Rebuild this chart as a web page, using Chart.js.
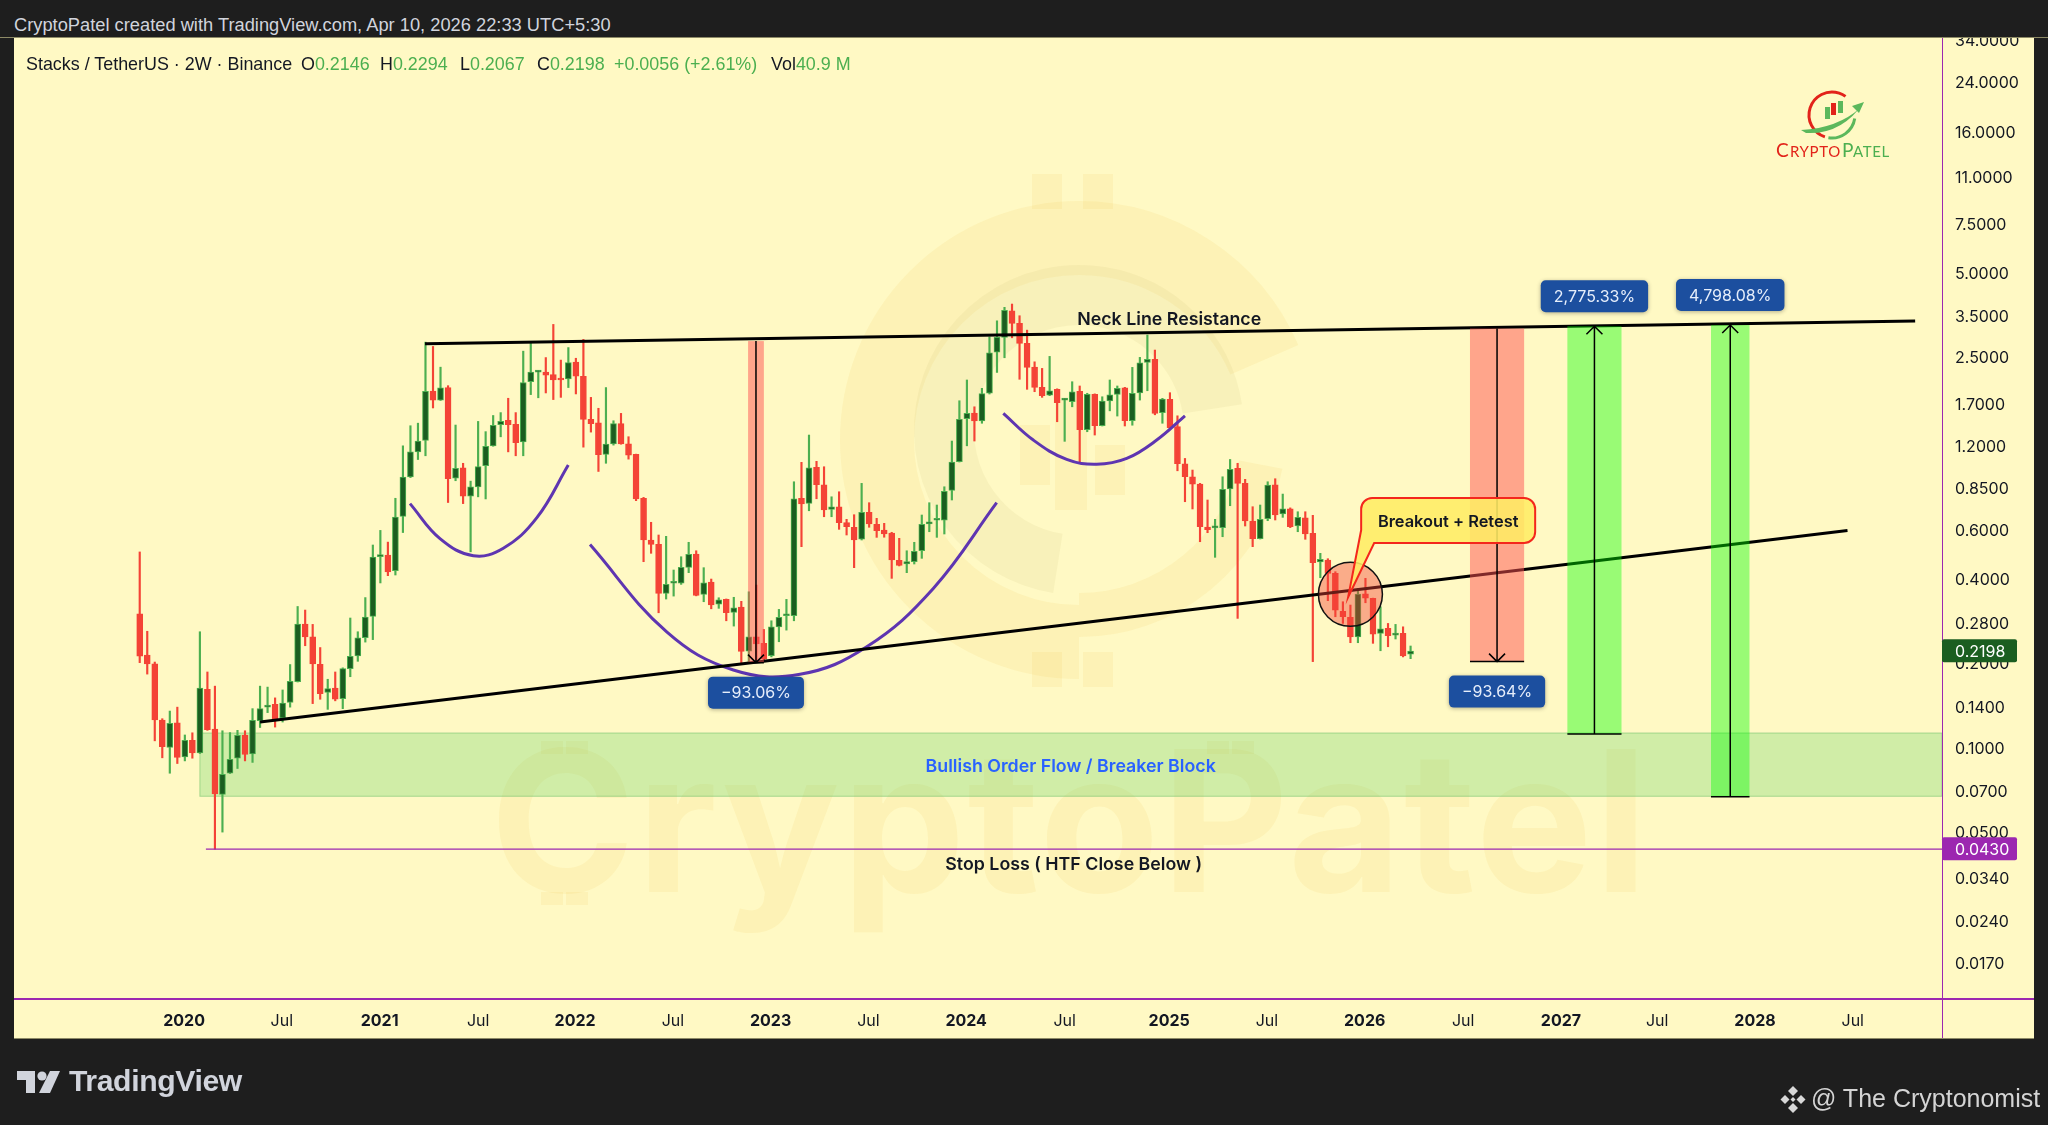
<!DOCTYPE html>
<html>
<head>
<meta charset="utf-8">
<title>STX/USDT 2W</title>
<script src="https://cdn.jsdelivr.net/npm/chart.js@4"></script>
<style>
  html, body { margin: 0; padding: 0; background: #1e1e1e; width: 2048px; height: 1125px; overflow: hidden; }
  canvas { position: absolute; left: 0; top: 0; }
  .top { position: absolute; left: 0; top: 0; width: 2048px; height: 38px; background: #1e1e1e; border-bottom: 1px solid #8d8a66; box-sizing: border-box; }
  .t { position: absolute; white-space: nowrap; font-family: "Liberation Sans", sans-serif; }
  .lg { top: 54px; font-size: 17.9px; color: #131722; }
  .gr { color: #4caf50; }
</style>
</head>
<body>
<canvas id="grafiek" width="2048" height="1125"></canvas>
<div class="top"></div>
<div class="t" style="left:14px;top:14px;font-size:18.3px;color:#d1d4dc">CryptoPatel created with TradingView.com, Apr 10, 2026 22:33 UTC+5:30</div>
<div class="t lg" style="left:26px">Stacks / TetherUS · 2W · Binance</div>
<div class="t lg" style="left:301px">O<span class="gr">0.2146</span></div>
<div class="t lg" style="left:380px">H<span class="gr">0.2294</span></div>
<div class="t lg" style="left:460px">L<span class="gr">0.2067</span></div>
<div class="t lg" style="left:537px">C<span class="gr">0.2198</span></div>
<div class="t lg gr" style="left:614px">+0.0056 (+2.61%)</div>
<div class="t lg" style="left:771px">Vol<span class="gr">40.9 M</span></div>
<svg class="t" style="left:17px;top:1071px" width="44" height="22" viewBox="0 0 44 22">
  <path fill="#d1d4dc" d="M0 0h18v22H9V9H0z"/><circle fill="#d1d4dc" cx="25" cy="5" r="4.6"/><path fill="#d1d4dc" d="M33 0h10L33 22H22z"/>
</svg>
<div class="t" style="left:69px;top:1064px;font-size:30.2px;font-weight:700;color:#d1d4dc;letter-spacing:-.4px">TradingView</div>
<svg class="t" style="left:1780px;top:1085px" width="26" height="29" viewBox="0 0 26 29">
  <g fill="#d8d8d8"><path d="M13 1l5 5-5 5-5-5z"/><path d="M13 18l5 5-5 5-5-5z"/><path d="M5 10l4.500 4.500-4.500 4.500-4.500-4.500z"/><path d="M21 10l4.500 4.500-4.500 4.500-4.500-4.500z"/><path d="M13 12l2.500 2.500-2.500 2.500-2.500-2.500z"/></g>
</svg>
<div class="t" style="left:1811px;top:1084px;font-size:25px;color:#d4d4d4">@ The Cryptonomist</div>
<script>
const opens = [.299,.213,.198,.1247,.0994,.1217,.0919,.1055,.0951,.1606,
  .1157,.0675,.0804,.0911,.1102,.0943,.124,.1386,.1419,.1268,
  .144,.1709,.275,.2472,.1973,.1564,.1622,.1487,.1905,.2115,
  .2456,.2927,.4794,.4855,.4266,.6676,.925,1.136,1.248,1.876,
  1.741,1.93,.9139,.9951,.7885,.8515,1.013,1.194,1.422,1.472,
  1.426,1.234,2.024,2.191,2.191,2.146,2.07,2.071,2.379,2.119,
  1.485,1.442,1.113,1.214,1.433,1.214,1.113,.7742,.5495,.5303,
  .354,.3847,.3847,.4388,.4895,.3512,.3886,.3241,.3369,.3027,
  .3163,.22,.2474,.2345,.2118,.2687,.2944,.2944,.7742,.7434,
  1.0,.8663,.7074,.7229,.6337,.6102,.5527,.6904,.6248,.5967,
  .5812,.4645,.4509,.4595,.5029,.6269,.6464,.6464,.8266,1.047,
  1.493,1.564,1.465,1.841,2.581,2.917,3.633,3.274,2.778,2.284,
  1.934,1.812,1.902,1.741,1.717,1.871,1.363,1.824,1.409,1.727,
  1.824,1.926,1.468,1.847,2.375,2.434,1.568,1.751,1.398,1.03,
  .9252,.8713,.6117,.607,.6085,.8364,.992,.8763,.6427,.5553,
  .6549,.8663,.6806,.7109,.6167,.6597,.5807,.4584,.466,.4176,
  .3051,.2904,.2474,.3527,.3399,.2545,.2652,.2508,.2545,.2146];
const closes = [.211,.198,.1247,.1,.1214,.0916,.1055,.0951,.1622,.1152,
  .0678,.0797,.0902,.1098,.0938,.1243,.1369,.1411,.125,.1432,
  .1714,.275,.2472,.198,.1548,.1615,.1479,.1905,.2105,.2456,
  .291,.4773,.4855,.422,.6636,.9225,1.136,1.241,1.87,1.741,
  1.924,.9108,.9926,.7885,.8515,1.007,1.19,1.413,1.46,1.422,
  1.226,2.012,2.191,2.209,2.138,2.054,2.054,2.371,2.119,1.485,
  1.434,1.11,1.212,1.433,1.214,1.106,.7705,.5495,.5303,.354,
  .3812,.3863,.4388,.4883,.3482,.3863,.3215,.3358,.3017,.3144,
  .2195,.2474,.2332,.2062,.2687,.2904,.296,.7718,.7392,.9968,
  .8663,.7035,.7229,.6337,.6131,.5495,.6904,.6269,.593,.5773,
  .466,.446,.4595,.5004,.6248,.6389,.6496,.8202,1.045,1.485,
  1.56,1.465,1.835,2.571,2.917,3.646,3.274,2.778,2.279,1.934,
  1.805,1.88,1.703,1.751,1.865,1.363,1.824,1.409,1.727,1.819,
  1.918,1.468,1.841,2.367,2.434,1.56,1.755,1.386,1.03,.9252,
  .8713,.6131,.5982,.6102,.8339,.9834,.8763,.6427,.5553,.6517,
  .8642,.6751,.7109,.6131,.6623,.5773,.4557,.4687,.4176,.3085,
  .2919,.2474,.3519,.3399,.253,.2643,.2496,.2545,.2112,.2198];
const highs = [.498,.259,.201,.126,.1342,.1386,.1102,.1122,.258,.1852,
  .1648,.1141,.1124,.1145,.1141,.1369,.1648,.1635,.1496,.1597,
  .1969,.3177,.3085,.2741,.2265,.1744,.1852,.1916,.2889,.258,
  .3419,.5273,.5947,.54,.775,1.194,1.409,1.439,2.806,2.708,
  2.283,1.96,1.417,1.034,.8925,1.46,1.342,1.533,1.57,1.767,
  1.57,2.605,2.806,2.22,2.471,3.247,2.42,2.683,2.457,2.87,
  1.78,1.627,1.93,1.468,1.56,1.287,1.115,.7807,.6358,.5726,
  .5664,.4291,.4787,.5392,.5029,.4374,.3983,.3414,.338,.3427,
  .3315,.3586,.379,.263,.2824,.3102,.3369,.888,1.042,1.305,
  1.051,1.005,.7846,.8177,.6517,.6768,.8763,.7472,.6568,.6305,
  .5855,.5571,.5029,.5392,.6751,.7472,.7331,.8521,1.242,1.731,
  2.054,1.647,1.918,2.932,3.345,3.738,3.841,3.488,3.098,2.386,
  2.26,2.495,1.91,1.766,2.025,1.955,1.841,1.832,1.789,2.054,
  1.955,1.934,2.279,2.475,2.975,2.629,1.766,1.85,1.529,1.076,
  .978,.8763,.764,.6517,.9252,1.067,1.034,.906,.7229,.7331,
  .888,.9104,.8023,.716,.6936,.6936,.6735,.4924,.471,.4231,
  .3304,.3215,.3688,.4006,.3403,.317,.2763,.2741,.2687,.2294];
const lows = [.2,.182,.105,.0913,.0804,.0871,.089,.091,.0946,.1145,
  .043,.0495,.0802,.0836,.089,.0879,.1172,.1325,.1176,.1226,
  .1386,.1705,.2299,.1427,.1479,.1361,.146,.1369,.1781,.2022,
  .2369,.2418,.3857,.4095,.4118,.5843,.919,1.0665,1.1,1.631,
  1.735,.7484,.8955,.7416,.4985,.7842,.7707,1.19,1.286,1.136,
  1.1,1.1,1.821,1.774,1.846,1.748,1.78,1.93,1.831,1.181,
  1.337,.9666,1.034,1.201,1.21,1.07,.76,.4595,.4924,.3017,
  .3378,.3461,.3812,.4197,.3468,.3304,.3117,.3129,.2824,.2703,
  .1979,.2017,.2045,.2017,.2097,.2376,.2615,.2824,.52,.6992,
  .7718,.6656,.6656,.6,.5726,.4374,.5495,.6102,.5616,.5622,
  .4006,.4437,.4197,.4509,.4724,.5883,.5616,.5773,.764,1.045,
  1.194,1.242,1.438,1.83,2.186,2.467,2.908,2.066,1.902,1.865,
  1.78,1.805,1.456,1.239,1.647,1.047,1.341,1.305,1.406,1.593,
  1.526,1.406,1.415,1.741,1.88,1.542,1.438,1.379,.972,.7533,
  .7095,.5418,.5835,.4764,.5645,.7289,.288,.6167,.52,.554,
  .6442,.648,.6623,.6085,.5883,.5527,.2017,.4027,.3333,.2919,
  .2763,.2357,.2357,.3276,.2345,.2206,.228,.243,.2097,.2067];

const yTicks = [34,24,16,11,7.5,5,3.5,2.5,1.7,1.2,.85,.6,.4,.28,.2,.14,.1,.07,.05,.034,.024,.017];
const xTickPos = [5.9,18.9,31.9,45,57.9,70.9,83.9,96.9,109.9,123,136.9,149.9,162.9,176,189,201.8,214.8,227.8];
const xTickLabels = ["2020","Jul","2021","Jul","2022","Jul","2023","Jul","2024","Jul","2025","Jul","2026","Jul","2027","Jul","2028","Jul"];

// trend lijnen [bar, prijs]
const neckLine = [[37.94,2.77],[236.1,3.337]];
const supportLine = [[16,.1227],[227.1,.5941]];
const stopLine = [[8.8,.043],[239.67,.043]];
const arcLeft = [[35.94,.7416],[39.93,.5557],[44.36,.4828],[48.35,.5136],[52.79,.659],[56.99,1.019]];
const arcMid = [[59.88,.529],[70.08,.2578],[78.94,.1883],[87.8,.1817],[96.68,.228],[105.53,.3688],[113.96,.7472]];
const arcRight = [[114.84,1.56],[118.83,1.252],[123.27,1.067],[127.26,1.025],[131.25,1.076],[135.24,1.252],[139,1.529]];

// meet blokken
const blockFrom = [80.9,176.9,189.85,208.95];
const blockTo = [83,184.1,197.05,214.07];
const blockTop = [2.83,3.14,3.2,3.23];
const blockBottom = [.2,.2017,.1111,.0662];
const blockText = ["\u221293.06%","\u221293.64%","2,775.33%","4,798.08%"];
const blockUp = [false,false,true,true];

const zoneFrom = 8, zoneTop = .112, zoneBottom = .0665;
const lastPrice = .2198, stopPrice = .043;

const noteText = ["Neck Line Resistance","Bullish Order Flow / Breaker Block","Stop Loss ( HTF Close Below )"];
const noteBar = [136.9,123.8,124.2];
const notePrice = [3.42,.0861,.0384];

const calloutBar = 160.7, calloutPrice = .3434, circleBar = 161, circlePrice = .3512;

const barIdx = opens.map((o, i) => i);
const up = i => closes[i] >= opens[i];

function toPts(list) {
  return list.map(p => ({ x: p[0], y: p[1] }));
}
function lijn(list, color, width, tension) {
  return { type: "line", data: toPts(list), borderColor: color, borderWidth: width, pointRadius: 0, tension: tension || 0, order: 0 };
}
function roundBox(ctx, x, y, w, h, r) {
  ctx.beginPath();
  ctx.roundRect(x, y, w, h, r);
}

const achtergrond = {
  id: "achtergrond",
  beforeDraw(chart) {
    const ctx = chart.ctx;
    ctx.save();
    ctx.fillStyle = "#fff9c4";
    ctx.fillRect(14, 38, 2020, 1000);
    ctx.fillStyle = "#8d8a66";
    ctx.fillRect(14, 1038, 2020, 1);
    ctx.restore();
  },
  beforeDatasetsDraw(chart) {
    const ctx = chart.ctx, x = chart.scales.x, y = chart.scales.y;
    ctx.save();
    // watermerk
    const wm = "rgba(236,190,60,0.10)";
    ctx.strokeStyle = wm;
    ctx.fillStyle = wm;
    ctx.lineWidth = 74;
    ctx.beginPath();
    ctx.arc(1079, 440, 202, Math.PI * 0.5, Math.PI * 1.87);
    ctx.stroke();
    ctx.lineWidth = 44;
    ctx.beginPath();
    ctx.arc(1079, 430, 185, Math.PI * 0.06, Math.PI * 0.5);
    ctx.stroke();
    ctx.strokeStyle = "rgba(180,170,90,0.09)";
    ctx.lineWidth = 60;
    ctx.beginPath();
    ctx.arc(1079, 430, 135, Math.PI * 0.55, Math.PI * 1.95);
    ctx.stroke();
    [[1032,174],[1083,174],[1032,652],[1083,652],[541,741],[566,741],[541,892],[566,892],[1207,741],[1232,741]].forEach(p => ctx.fillRect(p[0], p[1], p[1] > 700 ? 22 : 30, p[1] > 700 ? 13 : 35));
    [[1020,425,30,60],[1055,400,32,110],[1095,445,30,50]].forEach(p => ctx.fillRect(p[0], p[1], p[2], p[3]));
    ctx.font = "700 196px Inter";
    ctx.textAlign = "left";
    ctx.textBaseline = "alphabetic";
    ctx.letterSpacing = "2px";
    ctx.fillText("CryptoPatel", 490, 892);
    ctx.letterSpacing = "0px";
    // zone
    const zx = x.getPixelForValue(zoneFrom), zt = y.getPixelForValue(zoneTop), zb = y.getPixelForValue(zoneBottom);
    ctx.fillStyle = "rgba(100,210,100,0.3)";
    ctx.fillRect(zx, zt, x.right - zx, zb - zt);
    ctx.strokeStyle = "rgba(100,190,100,0.5)";
    ctx.lineWidth = 1;
    ctx.strokeRect(zx, zt, x.right - zx, zb - zt);
    ctx.restore();
  },
  afterDatasetsDraw(chart) {
    const ctx = chart.ctx, x = chart.scales.x, y = chart.scales.y;
    ctx.save();
    // blokken met pijl
    blockFrom.forEach((f, i) => {
      const x0 = x.getPixelForValue(f), x1 = x.getPixelForValue(blockTo[i]);
      const t = y.getPixelForValue(blockTop[i]), b = y.getPixelForValue(blockBottom[i]);
      const m = (x0 + x1) / 2;
      ctx.fillStyle = blockUp[i] ? "rgba(0,255,0,0.4)" : "rgba(255,82,82,0.5)";
      ctx.fillRect(x0, t, x1 - x0, b - t);
      ctx.strokeStyle = "#000";
      ctx.lineWidth = 1.5;
      ctx.beginPath();
      ctx.moveTo(m, t); ctx.lineTo(m, b);
      ctx.moveTo(x0, b); ctx.lineTo(x1, b);
      if (blockUp[i]) {
        ctx.moveTo(m - 8, t + 8); ctx.lineTo(m, t); ctx.lineTo(m + 8, t + 8);
      } else {
        ctx.moveTo(m - 8, b - 8); ctx.lineTo(m, b); ctx.lineTo(m + 8, b - 8);
      }
      ctx.stroke();
    });
    // cirkel retest
    const cx = x.getPixelForValue(circleBar), cy = y.getPixelForValue(circlePrice);
    ctx.fillStyle = "rgba(244,67,54,0.42)";
    ctx.strokeStyle = "#111";
    ctx.lineWidth = 1.5;
    ctx.beginPath();
    ctx.arc(cx, cy, 32, 0, Math.PI * 2);
    ctx.fill();
    ctx.stroke();
    // callout
    const tx = x.getPixelForValue(calloutBar), ty = y.getPixelForValue(calloutPrice);
    const bx = tx + 13, by = ty - 99, bw = 174, bh = 45, r = 11;
    ctx.beginPath();
    ctx.moveTo(bx + r, by);
    ctx.lineTo(bx + bw - r, by);
    ctx.arcTo(bx + bw, by, bx + bw, by + r, r);
    ctx.lineTo(bx + bw, by + bh - r);
    ctx.arcTo(bx + bw, by + bh, bx + bw - r, by + bh, r);
    ctx.lineTo(bx + 13, by + bh);
    ctx.lineTo(tx, ty);
    ctx.lineTo(bx, by + 32);
    ctx.lineTo(bx, by + r);
    ctx.arcTo(bx, by, bx + r, by, r);
    ctx.closePath();
    ctx.fillStyle = "rgba(255,236,100,0.88)";
    ctx.fill();
    ctx.strokeStyle = "#f4271c";
    ctx.lineWidth = 2;
    ctx.stroke();
    ctx.fillStyle = "#131722";
    ctx.font = "600 16.4px Inter";
    ctx.textAlign = "center";
    ctx.textBaseline = "middle";
    ctx.fillText("Breakout + Retest", bx + 87, by + 24);
    // blauwe labels
    blockFrom.forEach((f, i) => {
      const m = (x.getPixelForValue(f) + x.getPixelForValue(blockTo[i])) / 2;
      const my = blockUp[i] ? y.getPixelForValue(blockTop[i]) - 30 : y.getPixelForValue(blockBottom[i]) + 30;
      ctx.font = "16px Inter";
      const w = ctx.measureText(blockText[i]).width + 26;
      ctx.save();
      ctx.shadowColor = "rgba(0,0,0,0.3)";
      ctx.shadowBlur = 4;
      ctx.shadowOffsetY = 1;
      ctx.fillStyle = "#1c4f9f";
      roundBox(ctx, m - w / 2, my - 16, w, 32, 5);
      ctx.fill();
      ctx.restore();
      ctx.fillStyle = "#e6eefb";
      ctx.fillText(blockText[i], m, my + 1);
    });
    // teksten
    const noteColor = ["#131722", "#2962ff", "#131722"];
    noteText.forEach((s, i) => {
      ctx.fillStyle = noteColor[i];
      ctx.font = "600 17.8px Inter";
      ctx.fillText(s, x.getPixelForValue(noteBar[i]), y.getPixelForValue(notePrice[i]) + 2);
    });
    // logo
    ctx.lineWidth = 3;
    ctx.strokeStyle = "#e2231a";
    ctx.beginPath();
    ctx.arc(1832, 115, 23, Math.PI * 0.6, Math.PI * 1.7);
    ctx.stroke();
    ctx.strokeStyle = "#5cb85c";
    ctx.beginPath();
    ctx.arc(1832, 115, 23, Math.PI * 0.05, Math.PI * 0.55);
    ctx.stroke();
    ctx.fillStyle = "#5cb85c";
    ctx.fillRect(1825, 107, 5, 12);
    ctx.fillRect(1838, 101, 5, 12);
    ctx.fillStyle = "#e2231a";
    ctx.fillRect(1831, 103, 5, 12);
    ctx.fillStyle = "#5cb85c";
    ctx.beginPath();
    ctx.moveTo(1801, 130);
    ctx.quadraticCurveTo(1838, 128, 1860, 108);
    ctx.lineTo(1864, 102);
    ctx.quadraticCurveTo(1842, 135, 1806, 133);
    ctx.closePath();
    ctx.fill();
    ctx.beginPath();
    ctx.moveTo(1864, 102); ctx.lineTo(1852, 106); ctx.lineTo(1859, 113);
    ctx.closePath();
    ctx.fill();
    ctx.textAlign = "left";
    ctx.textBaseline = "alphabetic";
    ctx.fillStyle = "#e2231a";
    ctx.font = "19px Lato";
    ctx.fillText("C", 1776, 157);
    ctx.font = "15px Lato";
    ctx.letterSpacing = "0.6px";
    ctx.fillText("RYPTO", 1790, 157);
    ctx.fillStyle = "#4caf50";
    ctx.font = "19px Lato";
    ctx.fillText("P", 1842, 157);
    ctx.font = "15px Lato";
    ctx.fillText("ATEL", 1853, 157);
    ctx.letterSpacing = "0px";
    ctx.restore();
  },
  afterDraw(chart) {
    const ctx = chart.ctx, x = chart.scales.x, y = chart.scales.y;
    ctx.save();
    ctx.fillStyle = "#9c27b0";
    ctx.fillRect(x.right, 38, 1, 1000);
    ctx.fillRect(14, y.bottom - 1, 2020, 2);
    const priceBox = (v, color) => {
      const p = y.getPixelForValue(v);
      ctx.fillStyle = color;
      roundBox(ctx, x.right, p - 12, 75, 23, 2);
      ctx.fill();
      ctx.fillStyle = "#fff";
      ctx.font = "16px Inter";
      ctx.textAlign = "left";
      ctx.textBaseline = "middle";
      ctx.fillText(v.toFixed(4), x.right + 13, p + 1);
    };
    priceBox(lastPrice, "#1b5e20");
    priceBox(stopPrice, "#9c27b0");
    ctx.restore();
  }
};

new Chart(document.getElementById("grafiek").getContext("2d"), {
  type: "bar",
  plugins: [achtergrond],
  data: {
    datasets: [
      lijn(neckLine, "#000", 3),
      lijn(supportLine, "#000", 3),
      lijn(stopLine, "#9c27b0", 1.2),
      lijn(arcLeft, "#5e35b1", 3, 0.4),
      lijn(arcMid, "#5e35b1", 3, 0.4),
      lijn(arcRight, "#5e35b1", 3, 0.4),
      {
        label: "body",
        data: barIdx.map(i => ({ x: i, y: [opens[i], closes[i]] })),
        backgroundColor: c => up(c.dataIndex) ? "#1b5e20" : "#f44336",
        borderColor: c => up(c.dataIndex) ? "#4caf50" : "#f44336",
        borderWidth: 1,
        barThickness: 6,
        minBarLength: 2,
        borderSkipped: false,
        grouped: false,
        order: 1
      },
      {
        label: "wick",
        data: barIdx.map(i => ({ x: i, y: [lows[i], highs[i]] })),
        backgroundColor: c => up(c.dataIndex) ? "#4caf50" : "#f44336",
        borderWidth: 0,
        barThickness: 1.5,
        grouped: false,
        order: 2
      }
    ]
  },
  options: {
    responsive: false,
    animation: false,
    events: [],
    layout: { padding: { left: 14, right: 14, top: 38, bottom: 87 } },
    plugins: { legend: { display: false }, tooltip: { enabled: false } },
    scales: {
      x: {
        type: "linear",
        min: -16.72,
        max: 239.67,
        offset: false,
        grid: { display: false, drawTicks: false },
        border: { display: false },
        afterBuildTicks: s => { s.ticks = xTickPos.map(v => ({ value: v })); },
        afterFit: s => { s.height = 39; },
        ticks: {
          autoSkip: false,
          maxRotation: 0,
          padding: 13,
          color: "#131722",
          font: c => ({ family: "Inter", size: 16, weight: xTickLabels[c.index] === "Jul" ? "400" : "700" }),
          callback: (v, i) => xTickLabels[i]
        }
      },
      y: {
        type: "logarithmic",
        position: "right",
        min: 0.01251,
        max: 34.4,
        grid: { display: false, drawTicks: false },
        border: { display: false },
        afterBuildTicks: s => { s.ticks = yTicks.map(v => ({ value: v })); },
        afterFit: s => { s.width = 92; },
        ticks: {
          autoSkip: false,
          padding: 13,
          labelOffset: 2,
          color: "#131722",
          font: { family: "Inter", size: 16 },
          callback: v => Number(v).toFixed(4)
        }
      }
    }
  }
});
</script>
</body>
</html>
